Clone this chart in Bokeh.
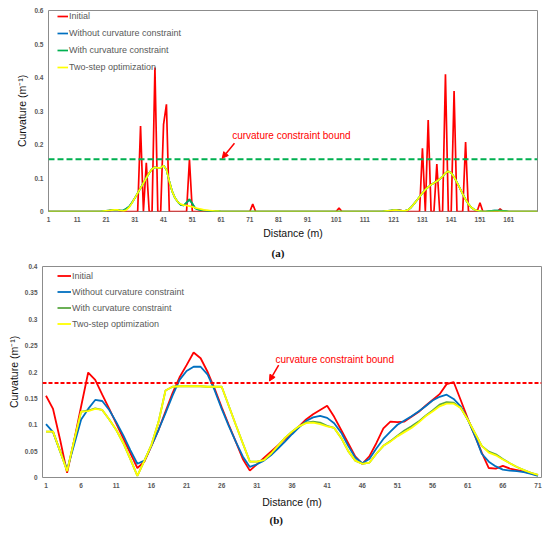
from bokeh.plotting import figure
from bokeh.models import (Range1d, FixedTicker, Span, Label, Arrow, NormalHead,
                          Title, Legend, LegendItem)
from bokeh.embed import file_html
from bokeh.resources import INLINE

SERIES_NAMES = ["Initial", "Without curvature constraint",
                "With curvature constraint", "Two-step optimization"]

# ---------------- chart (a) data ----------------
distance_a = list(range(1, 172))
initial_a = [
    0, 0, 0, 0, 0, 0, 0, 0, 0, 0,
    0, 0, 0, 0, 0, 0, 0, 0, 0, 0,
    0, 0.002, 0.004, 0.005, 0.004, 0.002, 0, 0, 0, 0,
    0, 0, 0.255, 0, 0.145, 0, 0, 0.43, 0, 0,
    0.26, 0.32, 0, 0, 0, 0, 0, 0, 0, 0.155,
    0, 0, 0, 0, 0, 0, 0, 0, 0, 0,
    0, 0, 0, 0, 0, 0, 0, 0, 0, 0,
    0, 0.022, 0, 0, 0, 0, 0, 0, 0, 0,
    0, 0, 0, 0, 0, 0, 0, 0, 0, 0,
    0, 0, 0, 0, 0, 0, 0, 0, 0, 0,
    0, 0.01, 0, 0, 0, 0, 0, 0, 0, 0,
    0, 0, 0, 0, 0, 0, 0, 0, 0, 0.002,
    0.004, 0.005, 0.004, 0.002, 0, 0, 0, 0, 0, 0,
    0.189, 0, 0.273, 0, 0, 0.142, 0, 0, 0.41, 0,
    0, 0.36, 0, 0, 0, 0.207, 0, 0, 0, 0,
    0.026, 0, 0, 0, 0, 0, 0, 0.008, 0, 0,
    0, 0, 0, 0, 0, 0, 0, 0, 0, 0,
    0,
]
without_a = [
    0, 0, 0, 0, 0, 0, 0, 0, 0, 0,
    0, 0, 0, 0, 0, 0, 0, 0, 0, 0.001,
    0.002, 0.003, 0.004, 0.005, 0.005, 0.003, 0.003, 0.008, 0.014, 0.026,
    0.04, 0.055, 0.07, 0.085, 0.1, 0.115, 0.127, 0.132, 0.13, 0.13,
    0.137, 0.125, 0.09, 0.06, 0.04, 0.028, 0.02, 0.018, 0.026, 0.035,
    0.023, 0.01, 0.006, 0.004, 0.003, 0.002, 0.001, 0.001, 0.001, 0.001,
    0, 0, 0, 0, 0, 0, 0, 0, 0, 0,
    0, 0, 0, 0, 0, 0, 0, 0, 0, 0,
    0, 0, 0, 0, 0, 0, 0, 0, 0, 0,
    0, 0, 0, 0, 0, 0, 0, 0, 0, 0,
    0, 0, 0, 0, 0, 0, 0, 0, 0, 0,
    0, 0, 0, 0, 0, 0, 0, 0.001, 0.002, 0.003,
    0.004, 0.004, 0.003, 0.002, 0.002, 0.005, 0.012, 0.022, 0.033, 0.044,
    0.055, 0.065, 0.073, 0.08, 0.085, 0.09, 0.097, 0.105, 0.115, 0.12,
    0.115, 0.103, 0.087, 0.07, 0.052, 0.036, 0.022, 0.012, 0.006, 0.003,
    0.001, 0, 0, 0.001, 0.002, 0.003, 0.003, 0.003, 0.002, 0.001,
    0, 0, 0, 0, 0, 0, 0, 0, 0, 0,
    0,
]
with_a = [
    0, 0, 0, 0, 0, 0, 0, 0, 0, 0,
    0, 0, 0, 0, 0, 0, 0, 0, 0, 0.001,
    0.002, 0.003, 0.004, 0.005, 0.005, 0.003, 0.003, 0.008, 0.014, 0.026,
    0.04, 0.055, 0.07, 0.085, 0.1, 0.115, 0.127, 0.132, 0.13, 0.13,
    0.137, 0.125, 0.09, 0.06, 0.04, 0.028, 0.02, 0.018, 0.027, 0.037,
    0.024, 0.01, 0.006, 0.004, 0.003, 0.002, 0.001, 0.001, 0.001, 0.001,
    0, 0, 0, 0, 0, 0, 0, 0, 0, 0,
    0, 0, 0, 0, 0, 0, 0, 0, 0, 0,
    0, 0, 0, 0, 0, 0, 0, 0, 0, 0,
    0, 0, 0, 0, 0, 0, 0, 0, 0, 0,
    0, 0, 0, 0, 0, 0, 0, 0, 0, 0,
    0, 0, 0, 0, 0, 0, 0, 0.001, 0.002, 0.003,
    0.004, 0.004, 0.003, 0.002, 0.002, 0.005, 0.012, 0.022, 0.033, 0.044,
    0.055, 0.065, 0.073, 0.08, 0.085, 0.09, 0.097, 0.105, 0.115, 0.12,
    0.115, 0.103, 0.087, 0.07, 0.052, 0.036, 0.022, 0.012, 0.006, 0.003,
    0.001, 0, 0, 0.001, 0.002, 0.003, 0.003, 0.003, 0.002, 0.001,
    0, 0, 0, 0, 0, 0, 0, 0, 0, 0,
    0,
]
twostep_a = [
    0, 0, 0, 0, 0, 0, 0, 0, 0, 0,
    0, 0, 0, 0, 0, 0, 0, 0, 0, 0.001,
    0.002, 0.003, 0.004, 0.005, 0.005, 0.003, 0.001, 0.004, 0.012, 0.025,
    0.04, 0.055, 0.07, 0.085, 0.1, 0.115, 0.127, 0.132, 0.13, 0.13,
    0.137, 0.125, 0.09, 0.06, 0.04, 0.028, 0.022, 0.019, 0.018, 0.016,
    0.014, 0.011, 0.009, 0.007, 0.005, 0.004, 0.003, 0.002, 0.001, 0.001,
    0, 0, 0, 0, 0, 0, 0, 0, 0, 0,
    0, 0, 0, 0, 0, 0, 0, 0, 0, 0,
    0, 0, 0, 0, 0, 0, 0, 0, 0, 0,
    0, 0, 0, 0, 0, 0, 0, 0, 0, 0,
    0, 0, 0, 0, 0, 0, 0, 0, 0, 0,
    0, 0, 0, 0, 0, 0, 0, 0.001, 0.002, 0.003,
    0.004, 0.004, 0.003, 0.002, 0.002, 0.005, 0.012, 0.022, 0.033, 0.044,
    0.055, 0.065, 0.073, 0.08, 0.085, 0.09, 0.097, 0.105, 0.115, 0.12,
    0.115, 0.103, 0.087, 0.07, 0.052, 0.036, 0.022, 0.012, 0.006, 0.003,
    0.001, 0, 0, 0, 0, 0, 0, 0, 0, 0,
    0, 0, 0, 0, 0, 0, 0, 0, 0, 0,
    0,
]
x_ticks_a = [1, 11, 21, 31, 41, 51, 61, 71, 81, 91, 101, 111, 121, 131, 141, 151, 161]
y_ticks_a = [0, 0.1, 0.2, 0.3, 0.4, 0.5, 0.6]
y_tick_labels_a = ["0", "0.1", "0.2", "0.3", "0.4", "0.5", "0.6"]
bound_a = 0.156
note_a_x, note_a_y = 64.85, 0.228
arrow_a = (65.65, 0.204, 61.4, 0.159)

# ---------------- chart (b) data ----------------
distance_b = list(range(1, 72))
initial_b = [
    0.155, 0.13, 0.072, 0.009, 0.07, 0.135, 0.199, 0.185, 0.157, 0.13,
    0.102, 0.074, 0.046, 0.018, 0.03, 0.06, 0.09, 0.125, 0.16, 0.19,
    0.213, 0.237, 0.226, 0.2, 0.168, 0.133, 0.1, 0.068, 0.035, 0.013,
    0.025, 0.037, 0.049, 0.061, 0.073, 0.085, 0.097, 0.11, 0.12, 0.128,
    0.136, 0.115, 0.09, 0.065, 0.04, 0.026, 0.04, 0.065, 0.093, 0.106,
    0.105, 0.106, 0.115, 0.124, 0.136, 0.147, 0.158, 0.177, 0.181, 0.147,
    0.112, 0.08, 0.047, 0.018, 0.017, 0.022, 0.017, 0.014, 0.011, 0.008,
    0.004,
]
without_b = [
    0.101, 0.086, 0.05, 0.015, 0.062, 0.11, 0.13, 0.147, 0.145, 0.128,
    0.105, 0.08, 0.052, 0.026, 0.032, 0.06, 0.09, 0.122, 0.155, 0.185,
    0.202, 0.21, 0.21, 0.195, 0.165, 0.13, 0.098, 0.068, 0.04, 0.02,
    0.025, 0.032, 0.042, 0.055, 0.068, 0.082, 0.095, 0.107, 0.114, 0.117,
    0.113, 0.103, 0.085, 0.06, 0.038, 0.027, 0.035, 0.055, 0.073, 0.087,
    0.1, 0.108, 0.116, 0.125, 0.135, 0.146, 0.153, 0.157, 0.149, 0.135,
    0.11, 0.08, 0.045, 0.03, 0.021, 0.015, 0.013, 0.012, 0.01, 0.007,
    0.003,
]
with_b = [
    0.087, 0.087, 0.05, 0.012, 0.07, 0.125, 0.127, 0.131, 0.128, 0.11,
    0.09, 0.065, 0.035, 0.003, 0.032, 0.062, 0.105, 0.165, 0.172, 0.173,
    0.173, 0.173, 0.173, 0.172, 0.172, 0.172, 0.136, 0.1, 0.065, 0.03,
    0.03, 0.033, 0.045, 0.06, 0.075, 0.087, 0.097, 0.104, 0.106, 0.104,
    0.098, 0.094, 0.075, 0.05, 0.032, 0.026, 0.028, 0.045, 0.06, 0.069,
    0.079, 0.089, 0.097, 0.106, 0.117, 0.127, 0.138, 0.143, 0.142, 0.132,
    0.11, 0.085, 0.06, 0.049, 0.044, 0.035, 0.027, 0.02, 0.014, 0.009,
    0.005,
]
twostep_b = [
    0.087, 0.087, 0.05, 0.012, 0.07, 0.125, 0.126, 0.13, 0.128, 0.11,
    0.09, 0.065, 0.035, 0.003, 0.032, 0.062, 0.105, 0.165, 0.172, 0.173,
    0.173, 0.173, 0.173, 0.172, 0.172, 0.172, 0.136, 0.1, 0.065, 0.03,
    0.03, 0.033, 0.045, 0.06, 0.075, 0.087, 0.097, 0.103, 0.104, 0.101,
    0.097, 0.094, 0.075, 0.05, 0.032, 0.026, 0.028, 0.045, 0.06, 0.068,
    0.078, 0.086, 0.094, 0.104, 0.116, 0.125, 0.135, 0.14, 0.14, 0.132,
    0.11, 0.085, 0.06, 0.047, 0.042, 0.034, 0.027, 0.02, 0.014, 0.009,
    0.005,
]
x_ticks_b = [1, 6, 11, 16, 21, 26, 31, 36, 41, 46, 51, 56, 61, 66, 71]
y_ticks_b = [0, 0.05, 0.1, 0.15, 0.2, 0.25, 0.3, 0.35, 0.4]
y_tick_labels_b = ["0", "0.05", "0.1", "0.15", "0.2", "0.25", "0.3", "0.35", "0.4"]
bound_b = 0.179
note_b_x, note_b_y = 33.66, 0.224
arrow_b = (34.1, 0.213, 32.8, 0.183)

COLORS_A = ["#FF0000", "#0070C0", "#00B050", "#FFFF00"]
COLORS_B = ["#FF0000", "#0070C0", "#5BA843", "#FFFF00"]
TICK_FONT = "Liberation Sans"


def style_axes(p, label_standoff_x, label_standoff_y, tick_standoff_y):
    for ax in (p.xaxis[0], p.yaxis[0]):
        ax.axis_line_color = None
        ax.major_tick_line_color = None
        ax.minor_tick_line_color = None
        ax.major_tick_out = 0
        ax.major_tick_in = 0
        ax.major_label_text_font = TICK_FONT
        ax.major_label_text_font_style = "bold"
        ax.major_label_text_font_size = "6.5px"
        ax.major_label_text_color = "#595959"
        ax.major_label_standoff = 5
        ax.axis_label_text_font = "Liberation Sans"
        ax.axis_label_text_font_style = "normal"
        ax.axis_label_text_font_size = "10.5px"
        ax.axis_label_text_color = "#111111"
    p.xaxis[0].axis_label_standoff = label_standoff_x
    p.yaxis[0].axis_label_standoff = label_standoff_y
    p.yaxis[0].major_label_standoff = tick_standoff_y
    p.xgrid.visible = False
    p.ygrid.visible = False
    p.outline_line_color = "#8c8c8c"
    p.outline_line_width = 1


def make_chart(x, series, colors, line_width, x_range, y_range, x_ticks, y_ticks,
               y_labels, bound, bound_color, bound_dash, note_xy, arrow_xy,
               width, height, borders, legend_loc, glyph_w, glyph_h, caption,
               caption_offset, standoffs):
    p = figure(width=width, height=height, output_backend="svg", toolbar_location=None,
               x_range=Range1d(*x_range), y_range=Range1d(*y_range),
               min_border_left=borders[0], min_border_right=borders[1],
               min_border_top=borders[2], min_border_bottom=borders[3],
               background_fill_color="white", border_fill_color="white")
    p.xaxis.ticker = FixedTicker(ticks=x_ticks)
    p.yaxis.ticker = FixedTicker(ticks=y_ticks)
    p.yaxis.major_label_overrides = dict(zip(y_ticks, y_labels))
    p.xaxis.axis_label = "Distance (m)"
    p.yaxis.axis_label = "Curvature (m\u207b\u00b9)"
    style_axes(p, standoffs[0], standoffs[1], standoffs[3])

    p.add_layout(Span(location=bound, dimension="width", line_color=bound_color,
                      line_dash=bound_dash, line_width=2))

    rends = []
    for ys, c in zip(series, colors):
        r = p.line(x, ys, line_color=c, line_width=line_width)
        rends.append(r)

    p.add_layout(Label(x=note_xy[0], y=note_xy[1], text="curvature constraint bound",
                       text_color="#FF0000", text_font="Liberation Sans",
                       text_font_size="10px", text_baseline="middle"))
    p.add_layout(Arrow(end=NormalHead(size=6, fill_color="#FF0000", line_color="#FF0000"),
                       x_start=arrow_xy[0], y_start=arrow_xy[1],
                       x_end=arrow_xy[2], y_end=arrow_xy[3],
                       line_color="#FF0000", line_width=1.5))

    legend = Legend(items=[LegendItem(label=n, renderers=[r]) for n, r in zip(SERIES_NAMES, rends)],
                    location=legend_loc, padding=0, margin=0, spacing=3,
                    glyph_width=glyph_w, glyph_height=glyph_h, label_height=glyph_h,
                    label_standoff=1, label_text_font="Liberation Sans",
                    label_text_font_size="9px", label_text_color="#595959",
                    background_fill_alpha=0, border_line_color=None)
    p.add_layout(legend)

    p.add_layout(Title(text=caption, align="left", offset=caption_offset,
                       text_font="Liberation Serif", text_font_size="11px",
                       text_font_style="bold", text_color="#111111", standoff=standoffs[2]),
                 "below")
    return p


p_a = make_chart(distance_a, [initial_a, without_a, with_a, twostep_a], COLORS_A, 1.7,
                 (1, 171), (0, 0.6), x_ticks_a, y_ticks_a, y_tick_labels_a,
                 bound_a, "#00B050", "6 3", (note_a_x, note_a_y), arrow_a,
                 542, 261, (48, 5, 10, 49), (9, 137), 11, 14, "(a)", 223, (2, 3, 6, 5))
p_b = make_chart(distance_b, [initial_b, without_b, with_b, twostep_b], COLORS_B, 1.8,
                 (0.5, 71.5), (0, 0.4), x_ticks_b, y_ticks_b, y_tick_labels_b,
                 bound_b, "#FF0000", "4 2", (note_b_x, note_b_y), arrow_b,
                 542, 266, (42, 1, 5, 49), (15, 147), 14, 13, "(b)", 227, (5, 2, 3, 5))

# two independent roots stacked in the page, so each frame keeps its own borders
open("out.html", "w").write(file_html([p_a, p_b], INLINE))
